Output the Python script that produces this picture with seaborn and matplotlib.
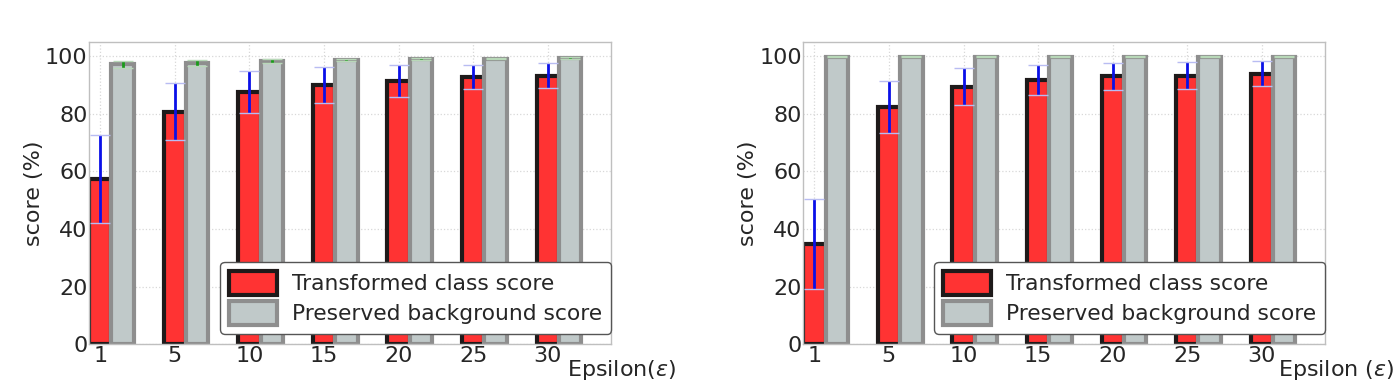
import pandas as pd
import matplotlib
matplotlib.use("Agg")
import matplotlib.pyplot as plt
import seaborn as sns

# Data
eps_labels = ["1", "5", "10", "15", "20", "25", "30"]

left_class = [57.5, 80.8, 87.5, 90.0, 91.5, 92.7, 93.3]
left_class_err = [15.3, 10.0, 7.3, 6.3, 5.5, 4.2, 4.3]
left_bg = [97.3, 97.6, 98.3, 98.7, 99.0, 99.2, 99.3]
left_bg_err = [1.2, 1.0, 0.7, 0.5, 0.4, 0.3, 0.3]

right_class = [34.8, 82.5, 89.5, 91.8, 93.0, 93.3, 94.0]
right_class_err = [15.5, 9.0, 6.3, 5.3, 4.8, 4.7, 4.3]
right_bg = [99.9, 99.9, 99.9, 99.9, 99.9, 99.9, 99.9]
right_bg_err = [0.1, 0.1, 0.1, 0.1, 0.1, 0.1, 0.1]

series_names = ["Transformed class score", "Preserved background score"]

sns.set_theme(style="whitegrid")
plt.rcParams["font.family"] = ["DejaVu Sans"]
plt.rcParams["mathtext.fontset"] = "dejavusans"


def make_panel(ax, cls, cls_err, bg, bg_err, xlabel):
    df = pd.DataFrame({
        "eps": eps_labels * 2,
        "score": cls + bg,
        "kind": [series_names[0]] * len(cls) + [series_names[1]] * len(bg),
    })
    sns.barplot(data=df, x="eps", y="score", hue="kind", order=eps_labels,
                hue_order=series_names, palette=["#ff3333", "#c0c9c9"],
                width=0.6, errorbar=None, ax=ax, saturation=1)

    styles = [("#1e1a1a", 3.0), ("#8e8e8e", 3.0)]
    centers = []
    for cont, (ec, lw) in zip(ax.containers, styles):
        xs = []
        for p in cont.patches:
            p.set_edgecolor(ec)
            p.set_linewidth(lw)
            xs.append(p.get_x() + p.get_width() / 2)
        centers.append(xs)

    for xs, vals, errs, col, capcol in [
        (centers[0], cls, cls_err, "#0a10e8", "#b8bcf2"),
        (centers[1], bg, bg_err, "#1a9a1a", "#b8d8b8"),
    ]:
        eb = ax.errorbar(xs, vals, yerr=errs, fmt="none", ecolor=col,
                         elinewidth=2, capsize=7, capthick=1, zorder=5)
        for cap in eb[1]:
            cap.set_markeredgecolor(capcol)

    ax.set_xticks(centers[0])
    ax.set_xticklabels(eps_labels)
    ax.set_xlim(centers[0][0] - 0.15, centers[0][-1] + 0.85)
    ax.set_ylim(0, 105)
    ax.set_yticks([0, 20, 40, 60, 80, 100])
    ax.tick_params(axis="both", labelsize=16, pad=1, length=0)
    ax.set_xlabel("")
    ax.set_ylabel("score (%)", fontsize=16, labelpad=1)
    ax.grid(True, color="#d8d8d8", linestyle=":", linewidth=0.9)
    ax.set_axisbelow(True)
    for s in ax.spines.values():
        s.set_color("#bfbfbf")
        s.set_linewidth(1)
    ax.text(1.02, -0.045, xlabel, transform=ax.transAxes, fontsize=16,
            ha="center", va="top")
    leg = ax.legend(loc="lower right", bbox_to_anchor=(1.0, 0.035),
                    fontsize=15.7, frameon=True, handlelength=2.2,
                    handleheight=1.3, borderaxespad=0.0, fancybox=True,
                    framealpha=1, borderpad=0.4, labelspacing=0.3,
                    handletextpad=0.7)
    for h, (ec, lw) in zip(leg.legend_handles, styles):
        h.set_edgecolor(ec)
        h.set_linewidth(lw)
    leg.get_frame().set_edgecolor("#555555")
    leg.get_frame().set_linewidth(1)
    leg.set_zorder(10)


fig = plt.figure(figsize=(13.98, 3.88), dpi=100)
ax1 = fig.add_axes([0.0637, 0.113, 0.3735, 0.779])
ax2 = fig.add_axes([0.5745, 0.113, 0.3735, 0.779])

make_panel(ax1, left_class, left_class_err, left_bg, left_bg_err,
           r"Epsilon($\varepsilon$)")
make_panel(ax2, right_class, right_class_err, right_bg, right_bg_err,
           r"Epsilon ($\varepsilon$)")

fig.savefig("out.png", dpi=100, facecolor="white")
